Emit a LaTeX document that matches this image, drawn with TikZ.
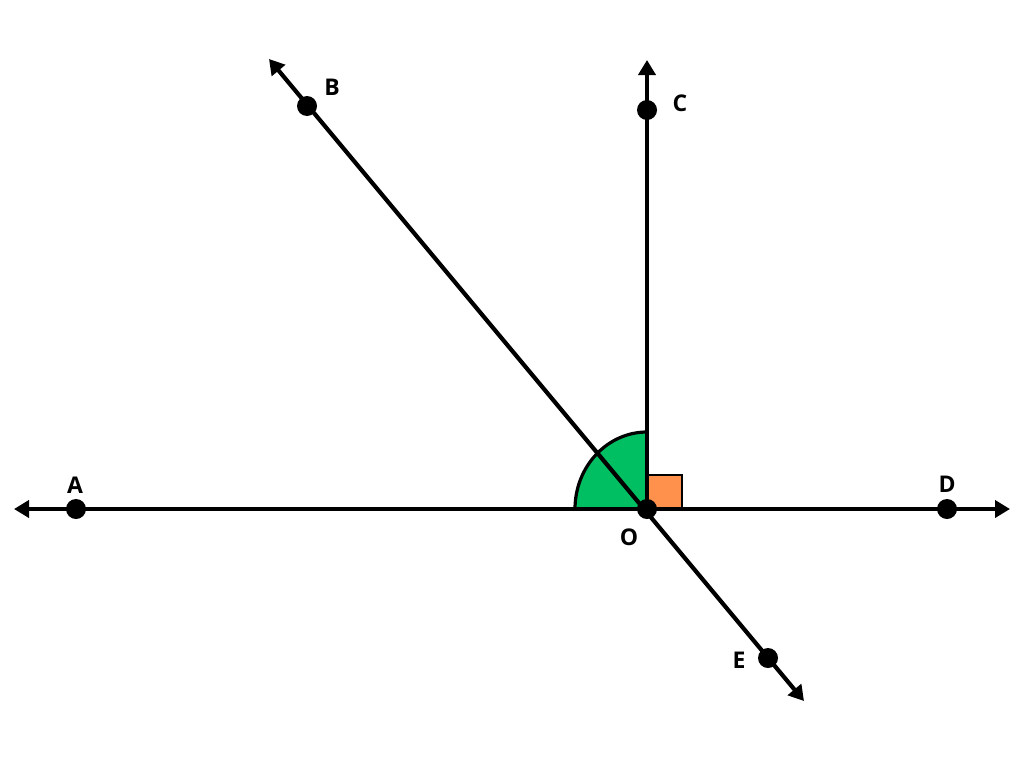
\documentclass[tikz,border=0pt]{standalone}
\usepackage{fontspec}
\setmainfont{Open Sans}
\usetikzlibrary{arrows.meta}
\definecolor{angg}{HTML}{00BF63}
\definecolor{rsq}{HTML}{FF914D}
\begin{document}
\begin{tikzpicture}[x=1pt,y=-1pt,
  ln/.style={line width=4.2pt,-{Triangle[length=15pt,width=17pt]}},
  lnb/.style={line width=4.2pt,{Triangle[length=15pt,width=17pt]}-{Triangle[length=15pt,width=17pt]}},
  pt/.style={circle,fill=black,inner sep=0pt,minimum size=20pt},
  lab/.style={font=\bfseries\fontsize{23}{26}\selectfont,inner sep=0pt}]
\useasboundingbox (0,0) rectangle (1024,763);
\coordinate (O) at (647,509);
\coordinate (tA) at (14,509);
\coordinate (tD) at (1010,509);
\coordinate (tC) at (647,60);
\coordinate (tB) at (269,59);
\coordinate (tE) at (804,701);
% angle sector
\filldraw[fill=angg,draw=black,line width=3.2pt] (O) -- (575,509) arc[start angle=180,end angle=90,x radius=72,y radius=-77] -- cycle;
\filldraw[fill=rsq,draw=black,line width=2pt] (O) rectangle (682,475);
% lines
\draw[lnb] (tA) -- (tD);
\draw[lnb] (tB) -- (tE);
\draw[ln] (O) -- (tC);
% points
\node[pt] (A) at (76,509) {};
\node[pt] (D) at (947,509) {};
\node[pt] (C) at (647,110) {};
\node[pt] (B) at (307,106) {};
\node[pt] (E) at (768,658) {};
\node[pt] (Op) at (O) {};
% labels
\node[lab] (lA) at (75,485) {A};
\node[lab] (lB) at (332,87) {B};
\node[lab] (lC) at (680,103) {C};
\node[lab] (lD) at (947,484) {D};
\node[lab] (lE) at (739,660) {E};
\node[lab] (lO) at (629,537) {O};
\end{tikzpicture}
\end{document}
